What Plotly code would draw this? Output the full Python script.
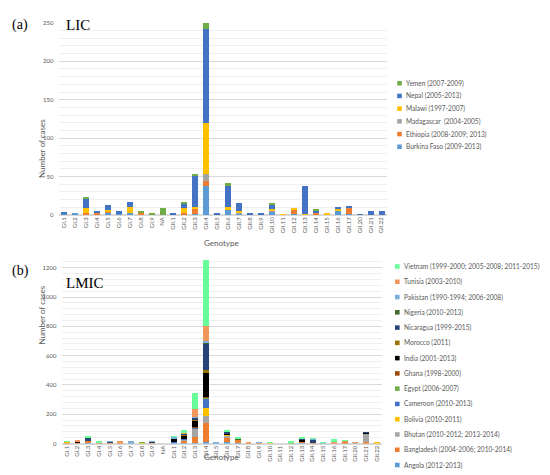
import plotly.graph_objects as go

# genotypes on the x axis (same for both panels)
genotypes = ["GI.1", "GI.2", "GI.3", "GI.4", "GI.5", "GI.6", "GI.7", "GI.8", "GI.9", "NA",
             "GII.1", "GII.2", "GII.3", "GII.4", "GII.5", "GII.6", "GII.7", "GII.8", "GII.9", "GII.10",
             "GII.11", "GII.12", "GII.13", "GII.14", "GII.15", "GII.16", "GII.17", "GII.20", "GII.21", "GII.22"]

# (a) LIC - number of cases per genotype
lic_names = ["Burkina Faso (2009-2013)", "Ethiopia (2008-2009; 2013)", "Madagascar  (2004-2005)",
             "Malawi (1997-2007)", "Nepal (2005-2013)", "Yemen (2007-2009)"]
burkina_faso = [2, 2, 1, 0, 2, 1, 2, 0, 0, 0, 0, 1, 1, 38, 1, 6, 2, 0, 0, 5, 0, 1, 0, 1, 0, 6, 1, 0, 0, 0]
ethiopia = [0, 0, 1, 2, 3, 0, 0, 2, 0, 0, 0, 2, 7, 6, 0, 0, 0, 0, 0, 0, 0, 5, 0, 1, 0, 0, 9, 0, 0, 0]
madagascar = [0, 0, 0, 0, 0, 0, 0, 0, 0, 0, 0, 0, 0, 9, 0, 0, 1, 0, 0, 1, 0, 0, 0, 0, 0, 0, 0, 0, 0, 0]
malawi = [0, 0, 7, 0, 2, 0, 9, 0, 1, 0, 0, 6, 3, 67, 0, 4, 2, 0, 0, 2, 1, 3, 1, 0, 3, 2, 0, 0, 0, 0]
nepal = [1, 0, 13, 3, 6, 4, 6, 0, 0, 0, 2, 6, 40, 122, 1, 29, 10, 2, 2, 6, 0, 0, 37, 4, 0, 3, 1, 1, 5, 5]
yemen = [0, 0, 1, 0, 0, 0, 0, 3, 1, 9, 0, 2, 2, 8, 0, 2, 0, 0, 0, 1, 0, 0, 0, 2, 0, 0, 0, 0, 0, 0]
lic_values = [burkina_faso, ethiopia, madagascar, malawi, nepal, yemen]
lic_colors = ["#5B9BD5", "#ED7D31", "#A5A5A5", "#FFC000", "#4472C4", "#70AD47"]

# (b) LMIC - number of cases per genotype
lmic_names = ["Angola (2012-2013)", "Bangladesh (2004-2006; 2010-2014)", "Bhutan (2010-2012; 2013-2014)",
              "Bolivia (2010-2011)", "Cameroon (2010-2013)", "Egypt (2006-2007)", "Ghana (1998-2000)",
              "India (2001-2013)", "Morocco (2011)", "Nicaragua (1999-2015)", "Nigeria (2010-2013)",
              "Pakistan (1990-1994; 2006-2008)", "Tunisia (2003-2010)",
              "Vietnam (1999-2000; 2005-2008; 2011-2015)"]
angola = [0, 0, 3, 0, 0, 0, 3, 0, 0, 0, 2, 3, 5, 10, 3, 8, 5, 0, 0, 0, 0, 0, 2, 0, 0, 0, 0, 0, 0, 0]
bangladesh = [8, 4, 12, 3, 4, 4, 3, 0, 3, 0, 6, 15, 40, 130, 0, 27, 17, 3, 2, 0, 0, 0, 10, 3, 0, 8, 12, 0, 8, 0]
bhutan = [0, 0, 0, 0, 0, 0, 0, 0, 0, 0, 0, 5, 55, 45, 0, 15, 0, 0, 4, 0, 0, 0, 0, 0, 0, 0, 0, 6, 58, 0]
bolivia = [2, 0, 0, 0, 0, 0, 0, 2, 0, 0, 0, 0, 0, 60, 0, 8, 0, 0, 0, 3, 0, 0, 0, 0, 0, 0, 0, 0, 0, 4]
cameroon = [0, 0, 0, 0, 0, 0, 0, 0, 0, 0, 3, 5, 8, 60, 0, 0, 0, 0, 0, 0, 0, 0, 0, 0, 0, 0, 0, 0, 2, 0]
egypt = [0, 0, 0, 0, 0, 0, 0, 2, 0, 0, 0, 0, 0, 10, 0, 3, 0, 0, 0, 0, 0, 5, 0, 0, 0, 0, 0, 0, 0, 0]
ghana = [0, 0, 0, 0, 0, 0, 0, 0, 0, 0, 0, 0, 3, 5, 0, 0, 0, 0, 0, 0, 0, 0, 0, 0, 0, 0, 0, 0, 0, 0]
india = [0, 8, 0, 0, 0, 0, 0, 0, 0, 0, 22, 27, 47, 160, 0, 5, 5, 0, 0, 0, 0, 0, 15, 0, 0, 0, 0, 0, 5, 0]
morocco = [0, 0, 0, 0, 0, 0, 0, 0, 0, 0, 0, 5, 2, 25, 0, 0, 0, 0, 0, 0, 0, 0, 0, 0, 0, 0, 0, 0, 0, 0]
nicaragua = [0, 0, 22, 4, 8, 0, 0, 0, 8, 0, 0, 5, 15, 175, 0, 17, 0, 0, 0, 0, 0, 0, 3, 20, 0, 0, 0, 0, 2, 0]
nigeria = [0, 0, 0, 0, 0, 0, 0, 0, 0, 0, 0, 0, 0, 5, 0, 0, 8, 0, 0, 0, 0, 0, 0, 3, 0, 0, 0, 0, 0, 0]
pakistan = [0, 0, 5, 0, 1, 0, 9, 0, 1, 0, 10, 0, 8, 15, 2, 0, 0, 0, 2, 0, 0, 0, 0, 3, 3, 0, 0, 0, 0, 0]
tunisia = [0, 8, 0, 0, 0, 5, 0, 0, 0, 0, 0, 10, 52, 100, 0, 0, 0, 5, 0, 0, 0, 0, 5, 0, 0, 5, 3, 2, 0, 0]
vietnam = [3, 0, 3, 3, 0, 0, 0, 0, 0, 0, 4, 15, 110, 450, 0, 10, 10, 0, 0, 2, 0, 15, 10, 5, 5, 15, 5, 0, 0, 0]
lmic_values = [angola, bangladesh, bhutan, bolivia, cameroon, egypt, ghana,
               india, morocco, nicaragua, nigeria, pakistan, tunisia, vietnam]
lmic_colors = ["#5B9BD5", "#ED7D31", "#A5A5A5", "#FFC000", "#4472C4", "#70AD47", "#9E480E",
               "#000000", "#997300", "#264478", "#43682B", "#7CAFDD", "#F1975A", "#66FF99"]

W, H = 550, 475
GREY = "#595959"
FONT = "Lato, Roboto, sans-serif"


def px(x):
    return x / W


def py(y):
    return 1 - y / H


fig = go.Figure()
for name, vals, col in zip(lic_names, lic_values, lic_colors):
    fig.add_trace(go.Bar(x=genotypes, y=vals, name=name, marker_color=col,
                         marker_line_width=0, xaxis="x", yaxis="y", showlegend=False))
for name, vals, col in zip(lmic_names, lmic_values, lmic_colors):
    fig.add_trace(go.Bar(x=genotypes, y=vals, name=name, marker_color=col,
                         marker_line_width=0, xaxis="x2", yaxis="y2", showlegend=False))

axis_common = dict(tickfont=dict(size=6, color=GREY, family=FONT), showline=False, ticks="")
fig.update_layout(
    width=W, height=H, autosize=False,
    margin=dict(l=0, r=0, t=0, b=0),
    paper_bgcolor="white", plot_bgcolor="white",
    barmode="stack", bargap=0.45,
    xaxis=dict(domain=[px(50.5), px(379)], anchor="y", tickangle=-90, **axis_common),
    yaxis=dict(domain=[py(206), py(11)], anchor="x", range=[0, 250], dtick=50,
               gridcolor="#D9D9D9", gridwidth=0.8, zeroline=True, zerolinecolor="#D9D9D9",
               minor=dict(dtick=10, showgrid=True, gridcolor="#EFEFEF", gridwidth=0.8),
               ticklabelstandoff=4, **axis_common),
    xaxis2=dict(domain=[px(53.5), px(374)], anchor="y2", tickangle=-90, **axis_common),
    yaxis2=dict(domain=[py(438), py(247)], anchor="x2", range=[0, 1285], dtick=200,
                gridcolor="#D9D9D9", gridwidth=0.8, zeroline=True, zerolinecolor="#D9D9D9",
                minor=dict(dtick=40, showgrid=True, gridcolor="#EFEFEF", gridwidth=0.8),
                ticklabelstandoff=4, **axis_common),
)

annotations = [
    dict(text="(a)", x=px(2), y=py(13), font=dict(family="Liberation Serif", size=14, color="black")),
    dict(text="LIC", x=px(56), y=py(13), font=dict(family="Liberation Serif", size=15, color="black")),
    dict(text="(b)", x=px(2), y=py(263), font=dict(family="Liberation Serif", size=14, color="black")),
    dict(text="LMIC", x=px(56), y=py(275), font=dict(family="Liberation Serif", size=15, color="black")),
]
for a in annotations:
    a.update(xref="paper", yref="paper", xanchor="left", yanchor="middle", showarrow=False)

for ycen in (107, 340):
    annotations.append(dict(text="Number of cases", x=px(27), y=py(ycen), textangle=-90,
                            xref="paper", yref="paper", showarrow=False,
                            font=dict(family=FONT, size=8, color=GREY)))
for ycen in (234, 459):
    annotations.append(dict(text="Genotype", x=px(213), y=py(ycen),
                            xref="paper", yref="paper", showarrow=False,
                            font=dict(family=FONT, size=8, color=GREY)))

# legends drawn as swatch + text, top entry = last series
shapes = []
legend_blocks = [(lic_names, lic_colors, 72.3, 12.9, 391.5, 396),
                 (lmic_names, lmic_colors, 258.3, 15.5, 389.3, 393.7)]
for names, colors, y0, step, sq_x, tx_x in legend_blocks:
    for i, (name, col) in enumerate(zip(reversed(names), reversed(colors))):
        yc = y0 + i * step
        shapes.append(dict(type="rect", xref="paper", yref="paper",
                           x0=px(sq_x - 2.3), x1=px(sq_x + 2.3), y0=py(yc + 2.3), y1=py(yc - 2.3),
                           fillcolor=col, line_width=0))
        annotations.append(dict(text=name, x=px(tx_x), y=py(yc), xref="paper", yref="paper",
                                xanchor="left", yanchor="middle", showarrow=False,
                                font=dict(family=FONT, size=6.6, color=GREY)))

fig.update_layout(annotations=annotations, shapes=shapes)

fig.write_html("out.html")
